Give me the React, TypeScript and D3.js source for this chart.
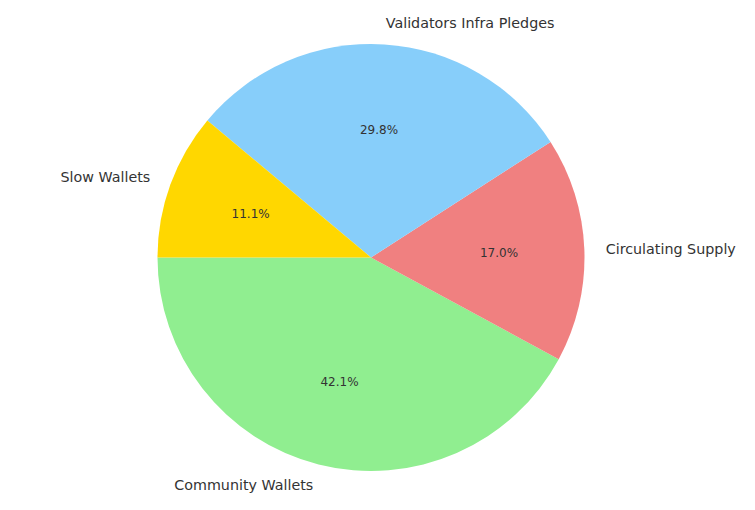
import React from 'react';
import * as d3 from 'd3';

// slices in drawing order, counterclockwise from 9 o'clock
const labels = ['Community Wallets', 'Circulating Supply', 'Validators Infra Pledges', 'Slow Wallets'];
const shares = [42.1, 17.0, 29.8, 11.1];
const colors = ['#90EE90', '#F08080', '#87CEFA', '#FFD700'];

const W = 755;
const H = 510;
const cx = 371;
const cy = 257.5;
const r = 213.5;

const App: React.FC = () => {
    const pie = d3.pie<number>()
        .sort(null)
        .value(d => d)
        .startAngle(-Math.PI / 2)
        .endAngle(-Math.PI / 2 - 2 * Math.PI);

    const arcs = pie(shares);
    const arcGen = d3.arc<d3.PieArcDatum<number>>().innerRadius(0).outerRadius(r);

    const at = (a: number, rad: number) => [Math.sin(a) * rad, -Math.cos(a) * rad];

    return (
        <svg width={W} height={H} style={{ position: 'absolute', left: 0, top: 0, background: '#fff' }}
            fontFamily="'DejaVu Sans', sans-serif">
            <g transform={`translate(${cx},${cy})`}>
                {arcs.map((d, i) => (
                    <path key={labels[i]} d={arcGen(d) || ''} fill={colors[i]} />
                ))}
                {arcs.map((d, i) => {
                    const mid = (d.startAngle + d.endAngle) / 2;
                    const [lx, ly] = at(mid, r * 1.1);
                    const [px, py] = at(mid, r * 0.6);
                    return (
                        <g key={'t' + labels[i]}>
                            <text x={lx} y={ly} textAnchor={lx > 0 ? 'start' : 'end'}
                                dominantBaseline="central" fontSize={14.3} fill="#333">
                                {labels[i]}
                            </text>
                            <text x={px} y={py} textAnchor="middle" dominantBaseline="central"
                                fontSize={12} fill="#333">
                                {shares[i].toFixed(1)}%
                            </text>
                        </g>
                    );
                })}
            </g>
        </svg>
    );
};

export default App;
